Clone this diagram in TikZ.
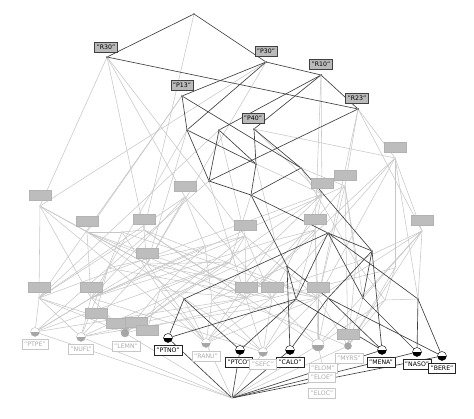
\documentclass[tikz,border=0pt]{standalone}
\usepackage{fontspec}
\setsansfont{DejaVu Sans}
\pgfdeclarelayer{bg}
\pgfsetlayers{bg,main}
\tikzset{
  dk/.style={draw=black!75, line width=0.65pt},
  lt/.style={draw=black!22, line width=0.55pt},
  dpt/.style={circle, fill=black!75, inner sep=0pt, minimum size=2pt},
  lpt/.style={circle, fill=black!25, inner sep=0pt, minimum size=1.6pt},
  lbl/.style={font=\sffamily\fontsize{6.2}{7}\selectfont, inner xsep=2.2pt, inner ysep=0pt, minimum height=9.5pt},
  dlab/.style={lbl, draw=black!75, fill=black!27, text=black},
  olab/.style={lbl, draw=black!85, fill=white, text=black},
  glab/.style={lbl, draw=black!22, fill=white, text=black!32},
  gbox/.style={fill=black!26, draw=black!30, minimum width=22pt, minimum height=10pt, inner sep=0pt},
  dobj/.style={circle, draw=black, fill=white, minimum size=9pt, inner sep=0pt,
    path picture={\fill[black] (path picture bounding box.west) rectangle (path picture bounding box.south east);}},
  gobj/.style={circle, draw=black!28, fill=white, minimum size=9pt, inner sep=0pt,
    path picture={\fill[black!35] (path picture bounding box.west) rectangle (path picture bounding box.south east);}},
  gfull/.style={circle, draw=black!35, fill=black!35, minimum size=8pt, inner sep=0pt},
}
\begin{document}
\begin{tikzpicture}[x=1pt,y=-1pt]
\useasboundingbox (0,0) rectangle (474,418);
% ---- dark concepts ----
\node[dpt] (T) at (194,14) {};
\node[dpt] (r30) at (107,57) {};  \node[dlab] (r30l) at (106,47) {"R30"};
\node[dpt] (p30) at (266,62) {};  \node[dlab] (p30l) at (266,51) {"P30"};
\node[dpt] (r10) at (321,75) {};  \node[dlab] (r10l) at (321,64) {"R10"};
\node[dpt] (p13) at (182,96) {};  \node[dlab] (p13l) at (182,85) {"P13"};
\node[dpt] (r23) at (358,109) {}; \node[dlab] (r23l) at (357,98) {"R23"};
\node[dpt] (p40) at (254,129) {}; \node[dlab] (p40l) at (253,118) {"P40"};
\node[dpt] (A) at (187,130) {};
\node[dpt] (B) at (219,130) {};
\node[dpt] (D) at (256,164) {};
\node[dpt] (E) at (301,168) {};
\node[dpt] (C) at (209,181) {};
\node[dpt] (F) at (251,195) {};
\node[dpt] (G) at (328,233) {};
\node[dpt] (H) at (372,251) {};
\node[dpt] (I) at (287,266) {};
\node[dpt] (J) at (184,299) {};
\node[dpt] (K) at (296,299) {};
\node[dpt] (L) at (328,298) {};
\node[dpt] (M) at (363,298) {};
\node[dpt] (N) at (418,299) {};
\node[lpt] (bot) at (232,398) {};
% ---- gray attribute concepts ----
\foreach \n/\x/\y in {g1/40/195, g2/87/221, g3/144/219, g4/185/186, g5/147/253, g6/245/225,
  g7/395/147, g8/345/175, g9/322/183, g10/315/219, g11/422/220, g12/39/287, g13/91/287,
  g14/246/287, g15/272/287, g16/318/287}{
  \node[gbox] (\n b) at (\x,\y) {};
  \node[lpt] (\n) at (\x,\y+11) {};
}
\foreach \n/\x/\y in {u1/122/232, u2/205/246, u3/230/262, u4/108/268, u5/275/240, u6/356/262, u7/395/268, u8/160/290, u9/212/300, u10/385/300}
  \node[lpt] (\n) at (\x,\y) {};
\node[gbox] (b1) at (96,313) {};
\node[gbox] (b2) at (117,323) {};
\node[gbox] (b3) at (136,322) {};
\node[gbox] (b4) at (147,330) {};
\node[gbox] (myrsb) at (348,334) {};
% ---- objects ----
\node[dobj] (ptno) at (168,338) {}; \node[olab] (ptnol) at (168,350) {"PTNO"};
\node[dobj] (ptco) at (240,350) {}; \node[olab] (ptcol) at (239,362) {"PTCO"};
\node[dobj] (calo) at (290,350) {}; \node[olab] (calol) at (290,362) {"CALO"};
\node[dobj] (mena) at (382,350) {}; \node[olab] (menal) at (381,362) {"MENA"};
\node[dobj] (naso) at (417,352) {}; \node[olab] (nasol) at (417,364) {"NASO"};
\node[dobj] (bere) at (442,356) {}; \node[olab] (berel) at (442,368) {"BERE"};
\node[gobj] (ptpe) at (35,332) {};  \node[glab] (ptpel) at (35,344) {"PTPE"};
\node[gobj] (nufl) at (81,337) {};  \node[glab] (nufll) at (81,349) {"NUFL"};
\node[gfull] (lemn) at (125,333) {}; \node[glab] (lemnl) at (126,346) {"LEMN"};
\node[gobj] (ranu) at (206,343) {}; \node[glab] (ranul) at (206,356) {"RANU"};
\node[gobj] (sefc) at (263,352) {}; \node[glab] (sefcl) at (263,364) {"SEFC"};
\node[gobj, minimum size=12pt] (elo) at (318,345) {};
\node[glab] (elom) at (323,368) {"ELOM"};
\node[glab] (eloe) at (322,377) {"ELOE"};
\node[glab] (eloc) at (322,393) {"ELOC"};
\node[gfull, minimum size=7pt] (myrs) at (348,346) {}; \node[glab] (myrsl) at (349,358) {"MYRS"};
% ---- edges ----
\begin{pgfonlayer}{bg}
\foreach \a/\b in {T/g3, r30/g1, r30/g3, r30/g6, r30/g4, p30/g1, p30/g5, p13/g2, p13/g12,
  r10/g9, r10/g10, r23/g7, r23/g8, r23/g11, r23/g16, p40/g7, p40/g9, A/g13, A/g5, B/g6, B/g12,
  C/g14, D/g9, E/g8, g4/g12, g4/g13, g4/g15, g4/g5, g1/g2, g1/g12, g1/g5, g1/ranu, g1/g13,
  g2/g13, g2/g5, g2/g15, g2/sefc, g2/g14, g3/g5, g3/g14, g3/g12, g3/elo, g3/g16,
  g5/nufl, g5/g16, g5/myrs, g5/ptpe, g5/ranu, g6/g14, g6/g15, g6/g13, g6/g16, g6/lemn,
  g7/g11, g7/g16, g7/g15, g7/N, g7/g14, g8/g16, g8/g14, g8/g13, g8/M, g8/myrs,
  g9/g10, g9/g15, g9/g12, g9/lemn, g10/g14, g10/g16, g10/K, g10/elo, g10/nufl,
  g11/N, g11/myrs, g11/M, g11/g16, g11/elo, g12/ptpe, g12/nufl, g12/lemn,
  g13/nufl, g13/ptpe, g13/lemn, g13/sefc, g14/ranu, g14/sefc, g14/ptpe, g14/nufl,
  g15/sefc, g15/ranu, g15/lemn, g15/elo, g16/elo, g16/myrs, g16/sefc, g16/nufl, g16/ranu,
  bot/ptpe, bot/nufl, bot/lemn, bot/ranu, bot/sefc, bot/elo, bot/myrs, elo/elom,
  g2/u1, g3/u1, u1/u4, u1/u8, u1/g16, g4/u2, g6/u2, u2/u9, u2/u4, u2/g13, u3/ptpe, g6/u3, g5/u3,
  u3/u8, u3/lemn, g10/u5, g9/u5, u5/u9, u5/g13, u5/ranu, g8/u6, g11/u6, u6/g14, u6/myrs, u6/u10,
  g7/u7, u7/u10, u7/g15, u7/myrs, u4/ptpe, u4/nufl, u8/lemn, u8/ranu, u9/ranu, u9/sefc,
  u10/elo, u10/myrs, D/u5, F/u3, C/u4, E/u6, I/u9, K/sefc, L/elo, M/myrs, N/u10, J/ranu,
  u4/b1, u8/b4, g12/b2, u2/u8, g14/u8, g15/u4}
  \draw[lt] (\a) -- (\b);
\foreach \a/\b in {T/r30, T/p30, r30/r23, p30/p13, p30/r10, p30/A, r10/r23, r10/B, r10/p40,
  p13/A, p13/E, r23/C, A/C, A/D, B/C, B/D, p40/D, p40/E, C/F, D/F, E/F, E/H, F/G, F/I,
  G/H, G/N, G/K, G/M, G/J, H/M, H/mena, H/L, I/K, I/L, I/calo, J/ptno, J/ptco,
  K/ptno, K/ptco, K/mena, L/calo, L/mena, L/bere, M/naso, N/naso, N/bere,
  bot/ptno, bot/ptco, bot/calo, bot/mena, bot/naso, bot/bere}
  \draw[dk] (\a) -- (\b);
\end{pgfonlayer}
\end{tikzpicture}
\end{document}
